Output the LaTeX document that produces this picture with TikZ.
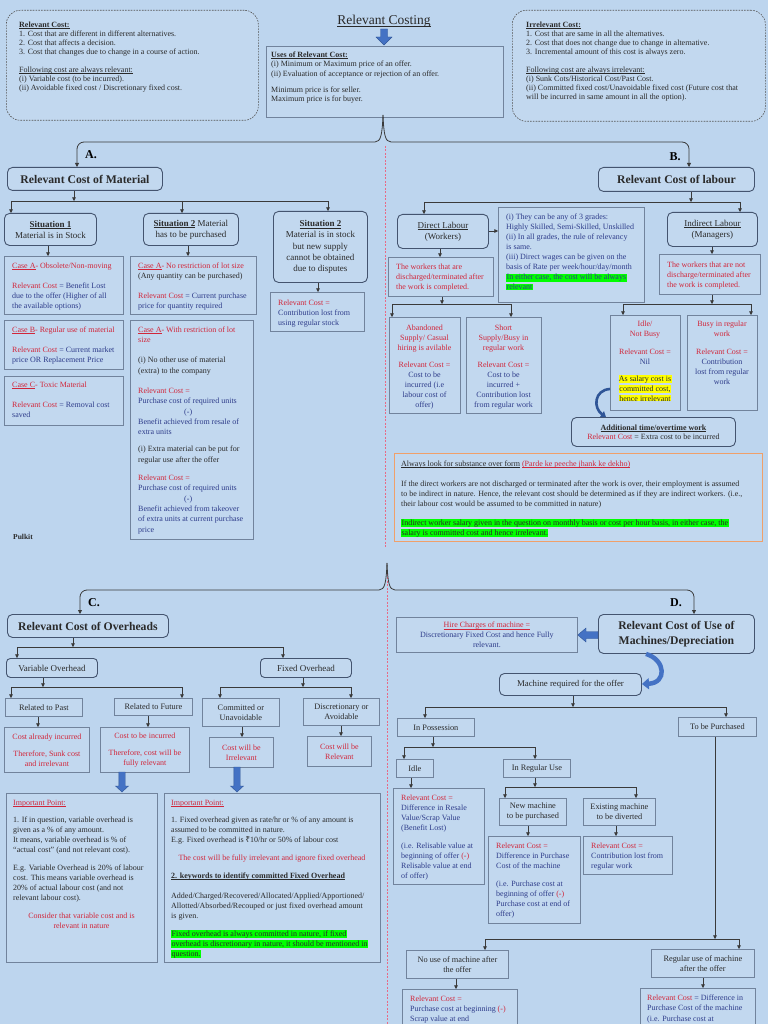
\documentclass[tikz,border=0pt]{standalone}
\usepackage{fontspec}
\setmainfont{Liberation Serif}
\newfontfamily\rupeefont{Noto Sans}
\usetikzlibrary{arrows.meta}
\definecolor{bgc}{HTML}{BDD5EE}
\definecolor{boxfill}{HTML}{C2D8EF}
\definecolor{rborder}{HTML}{44546F}
\definecolor{sborder}{HTML}{71839C}
\definecolor{tred}{HTML}{D1263A}
\definecolor{tblue}{HTML}{2E3C8A}
\definecolor{tdark}{HTML}{2A2A2A}
\definecolor{lnc}{HTML}{3A3A3A}
\definecolor{bigblue}{HTML}{4472C4}
\definecolor{bigblueb}{HTML}{2F5597}
\definecolor{hlg}{HTML}{00FF00}
\definecolor{hly}{HTML}{FFFF00}
\definecolor{orangeb}{HTML}{F0A06A}
\definecolor{reddash}{HTML}{E86A86}
\definecolor{brc}{HTML}{555555}
\newcommand\uline[1]{\setbox0=\hbox{#1}\rlap{\vrule height -0.12em depth 0.19em width \wd0}\box0\relax}
\newcommand\hg[1]{{\setlength\fboxsep{0.4pt}\colorbox{hlg}{#1}}}
\newcommand\hy[1]{{\setlength\fboxsep{0.4pt}\colorbox{hly}{#1}}}
\newcommand\rcst{\textcolor{tred}{Relevant Cost}}
\newcommand\rd[1]{\textcolor{tred}{#1}}
\newcommand\dk[1]{\textcolor{tdark}{#1}}
\newcommand\mkbox[7]{\node[#1, minimum width={#5-#3}, minimum height={#6-#4}, anchor=north west] (#2) at (#3,#4) {#7};}
\newcommand\tn[5][]{\node[txt,anchor=north west,#1] (#2) at (#3,{#4-4.2}) {\strut #5};}
\newcommand\tcn[5][]{\node[txt,align=center,anchor=north,#1] (#2) at (#3,{#4-4.2}) {\strut #5};}
% x, ytop, ybot, shaft half width, head half width, head length
\newcommand\bigdown[6]{\filldraw[bigarr] ({#1-#4},#2) -- ({#1+#4},#2) -- ({#1+#4},{#3-#6}) -- ({#1+#5},{#3-#6}) -- (#1,#3) -- ({#1-#5},{#3-#6}) -- ({#1-#4},{#3-#6}) -- cycle;}
\tikzset{
 rbox/.style={draw=rborder, line width=0.9pt, rounded corners=5pt, fill=boxfill, inner sep=1pt, align=center, text=tdark, font=\fontsize{9}{11}\selectfont},
 sbox/.style={draw=sborder, line width=0.8pt, fill=boxfill, inner sep=1pt, align=center, text=tdark, font=\fontsize{8}{10}\selectfont},
 dbox/.style={draw=brc, line width=0.6pt, dash pattern=on 1.6pt off 1.2pt, rounded corners=14pt, fill=boxfill},
 obox/.style={draw=orangeb, line width=0.9pt, fill=boxfill},
 hdr/.style={font=\bfseries\fontsize{11.7}{14.5}\selectfont},
 txt/.style={inner sep=0pt, align=left, text=tblue, font=\fontsize{8}{10}\selectfont},
 lbl/.style={inner sep=0pt, font=\bfseries\fontsize{12}{14}\selectfont, text=black},
 arr/.style={draw=lnc, line width=0.6pt, -{Triangle[width=3.6pt,length=3.6pt]}},
 ln/.style={draw=lnc, line width=0.6pt},
 brace/.style={draw=lnc, line width=0.8pt, -{Triangle[width=4pt,length=4pt]}},
 bigarr/.style={fill=bigblue, draw=bigblueb, line width=0.4pt},
}
\begin{document}
\begin{tikzpicture}[x=1pt, y={(0pt,-1pt)}]
\useasboundingbox (0,0) rectangle (768,1024);
\fill[bgc] (0,0) rectangle (768,1024);
\clip (0,0) rectangle (768,1024);
% centre divider
\draw[reddash, line width=0.6pt, dash pattern=on 2pt off 1.5pt] (385,146) -- (385,548);
\draw[reddash, line width=0.6pt, dash pattern=on 2pt off 1.5pt] (387,570) -- (387,1024);

% ================= TOP =================
\mkbox{dbox}{relc}{6}{10}{258}{120}{}
\tn[text=tdark, font=\fontsize{8}{9}\selectfont]{relct}{19}{25}{\textbf{\uline{Relevant Cost:}}\\1. Cost that are different in different alternatives.\\2. Cost that affects a decision.\\3. Cost that changes due to change in a course of action.\\[9pt]\uline{Following cost are always relevant:}\\(i) Variable cost (to be incurred).\\(ii) Avoidable fixed cost / Discretionary fixed cost.}
\node[inner sep=0pt, font=\fontsize{13.5}{16}\selectfont, text=tdark] (title) at (384,21) {\uline{Relevant Costing}};
\mkbox{sbox}{uses}{266}{46}{503}{117}{}
\bigdown{384}{29}{45}{3.5}{8}{8}
\tn[text=tdark, font=\fontsize{8}{9.3}\selectfont]{usest}{271}{55}{\textbf{\uline{Uses of Relevant Cost:}}\\(i) Minimum or Maximum price of an offer.\\(ii) Evaluation of acceptance or rejection of an offer.\\[7pt]Minimum price is for seller.\\Maximum price is for buyer.}
\mkbox{dbox}{irc}{512}{10}{765}{121}{}
\tn[text=tdark, font=\fontsize{8}{9}\selectfont]{irct}{526}{25}{\textbf{\uline{Irrelevant Cost:}}\\1. Cost that are same in all the alternatives.\\2. Cost that does not change due to change in alternative.\\3. Incremental amount of this cost is always zero.\\[9pt]\uline{Following cost are always irrelevant:}\\(i) Sunk Cots/Historical Cost/Past Cost.\\(ii) Committed fixed cost/Unavoidable fixed cost (Future cost that\\will be incurred in same amount in all the option).}

% ================= A =================
\node[lbl] (labA) at (91,155) {A.};
\mkbox{rbox,hdr}{matA}{7}{167}{162}{190}{Relevant Cost of Material}
\mkbox{rbox}{sit1}{4}{213}{96}{245}{\uline{\textbf{Situation 1}}\\Material is in Stock}
\mkbox{rbox}{sit2}{143}{213}{238}{245}{\uline{\textbf{Situation 2}} Material\\has to be purchased}
\mkbox{rbox,font=\fontsize{9}{11.3}\selectfont}{sit3}{273}{211}{367}{282}{\uline{\textbf{Situation 2}}\\Material is in stock\\but new supply\\cannot be obtained\\due to disputes}
\mkbox{sbox}{cA1}{4}{256}{123}{314}{}
\tn{cA1t}{12}{265}{\rd{\uline{Case A}- Obsolete/Non-moving}\\[10pt]\rcst{} = Benefit Lost\\due to the offer (Higher of all\\the available options)}
\mkbox{sbox}{cB}{4}{320}{123}{369}{}
\tn{cBt}{12}{329}{\rd{\uline{Case B}- Regular use of material}\\[10pt]\rcst{} = Current market\\price OR Replacement Price}
\mkbox{sbox}{cC}{4}{376}{123}{425}{}
\tn{cCt}{12}{384}{\rd{\uline{Case C}- Toxic Material}\\[10pt]\rcst{} = Removal cost\\saved}
\mkbox{sbox}{cA2}{130}{256}{256}{314}{}
\tn{cA2t}{138}{265}{\rd{\uline{Case A}- No restriction of lot size}\\\dk{(Any quantity can be purchased)}\\[10pt]\rcst{} = Current purchase\\price for quantity required}
\mkbox{sbox}{cA3}{130}{320}{253}{539}{}
\tn[font=\fontsize{8}{10.3}\selectfont]{cA3t}{138}{329}{\rd{\uline{Case A}- With restriction of lot}\\\rd{size}\\[10pt]\dk{(i) No other use of material}\\\dk{(extra) to the company}\\[10pt]\rd{Relevant Cost =}\\Purchase cost of required units\\\hspace*{46pt}(-)\\Benefit achieved from resale of\\extra units\\[7pt]\dk{(i) Extra material can be put for}\\\dk{regular use after the offer}\\[8pt]\rd{Relevant Cost =}\\Purchase cost of required units\\\hspace*{46pt}(-)\\Benefit achieved from takeover\\of extra units at current purchase\\price}
\mkbox{sbox}{rs3}{270}{292}{364}{331}{}
\tn{rs3t}{278}{302}{\rd{Relevant Cost =}\\Contribution lost from\\using regular stock}
\node[inner sep=0pt, font=\bfseries\fontsize{7.5}{9}\selectfont, text=tdark, anchor=west] (pulkit) at (13,537) {Pulkit};

\draw[arr] (matA.south -| 74,0) -- (74,201);
\draw[ln] (11,201) -- (328,201);
\draw[arr] (11,201) -- (sit1.north -| 11,0);
\draw[arr] (182,201) -- (sit2.north -| 182,0);
\draw[arr] (328,201) -- (sit3.north -| 328,0);
\draw[arr] (sit1.south -| 48,0) -- (cA1.north -| 48,0);
\draw[arr] (sit2.south -| 188,0) -- (cA2.north -| 188,0);
\draw[arr] (sit3.south -| 318,0) -- (rs3.north -| 318,0);

% ================= B =================
\node[lbl] (labB) at (675,157) {B.};
\mkbox{rbox,hdr}{matB}{598}{167}{754}{191}{Relevant Cost of labour}
\mkbox{rbox}{dl}{397}{214}{488}{248}{\uline{Direct Labour}\\(Workers)}
\mkbox{sbox}{gr}{498}{207}{644}{302}{}
\tn[font=\fontsize{8}{10.1}\selectfont]{grt}{506}{216}{(i) They can be any of 3 grades:\\Highly Skilled, Semi-Skilled, Unskilled\\(ii) In all grades, the rule of relevancy\\is same.\\(iii) Direct wages can be given on the\\basis of Rate per week/hour/day/month\\\hg{In either case, the cost will be always}\\\hg{relevant}}
\mkbox{rbox}{il}{667}{212}{757}{246}{\uline{Indirect Labour}\\(Managers)}
\mkbox{sbox}{iw}{659}{254}{760}{294}{}
\tn[text=tred]{iwt}{667}{264}{The workers that are not\\discharge/terminated after\\the work is completed.}
\mkbox{sbox}{dw}{388}{257}{493}{296}{}
\tn[text=tred]{dwt}{396}{266}{The workers that are\\discharged/terminated after\\the work is completed.}
\mkbox{sbox}{ab}{389}{317}{460}{413}{}
\tcn{abt}{424.5}{327}{\rd{Abandoned}\\\rd{Supply/ Casual}\\\rd{hiring is avilable}\\[7pt]\rd{Relevant Cost =}\\Cost to be\\incurred (i.e\\labour cost of\\offer)}
\mkbox{sbox}{ss}{466}{317}{541}{413}{}
\tcn{sst}{503.5}{327}{\rd{Short}\\\rd{Supply/Busy in}\\\rd{regular work}\\[7pt]\rd{Relevant Cost =}\\Cost to be\\incurred +\\Contribution lost\\from regular work}
\mkbox{sbox}{idl}{610}{315}{680}{410}{}
\tcn{idlt}{645}{323}{\rd{Idle/}\\\rd{Not Busy}\\[8pt]\rd{Relevant Cost =}\\Nil\\[7pt]\dk{\hy{As salary cost is}}\\\dk{\hy{committed cost,}}\\\dk{\hy{hence irrelevant}}}
\mkbox{sbox}{bsy}{687}{315}{757}{410}{}
\tcn{bsyt}{722}{323}{\rd{Busy in regular}\\\rd{work}\\[8pt]\rd{Relevant Cost =}\\Contribution\\lost from regular\\work}
\mkbox{rbox,font=\fontsize{8}{9}\selectfont}{add}{571}{417}{735}{446}{\textbf{\uline{Additional time/overtime work}}\\\rcst{} = Extra cost to be incurred}
\mkbox{obox}{org}{394}{453}{762}{541}{}
\tn[text=tdark]{orgt}{401}{463}{\uline{Always look for substance over form} \rd{\uline{(Parde ke peeche jhank ke dekho)}}\\[10pt]If the direct workers are not discharged or terminated after the work is over, their employment is assumed\\to be indirect in nature. Hence, the relevant cost should be determined as if they are indirect workers. (i.e.,\\their labour cost would be assumed to be committed in nature)\\[9pt]\hg{Indirect worker salary given in the question on monthly basis or cost per hour basis, in either case, the}\\\hg{salary is committed cost and hence irrelevant.}}

\draw[arr] (matB.south -| 691,0) -- (691,202);
\draw[ln] (424,202) -- (740,202);
\draw[arr] (424,202) -- (dl.north -| 424,0);
\draw[arr] (740,202) -- (il.north -| 740,0);
\draw[arr] (dl.east |- 0,231) -- (gr.west |- 0,231);
\draw[arr] (dl.south -| 440,0) -- (dw.north -| 440,0);
\draw[arr] (il.south -| 712,0) -- (iw.north -| 712,0);
\draw[arr] (dw.south -| 442,0) -- (442,304);
\draw[ln] (392,304) -- (511,304);
\draw[arr] (392,304) -- (ab.north -| 392,0);
\draw[arr] (511,304) -- (ss.north -| 511,0);
\draw[arr] (iw.south -| 712,0) -- (712,304);
\draw[ln] (623,304) -- (751,304);
\draw[arr] (623,304) -- (idl.north -| 623,0);
\draw[arr] (751,304) -- (bsy.north -| 751,0);
\draw[draw=bigblueb, line width=2.6pt, -{Triangle[width=7pt,length=5pt]}] (idl.west |- 0,389) .. controls (594,390) and (593,408) .. (add.north -| 606,0);

% ================= C =================
\node[lbl] (labC) at (94,603) {C.};
\mkbox{rbox,hdr}{ovh}{7}{614}{168}{637}{Relevant Cost of Overheads}
\mkbox{rbox,rounded corners=4pt}{vo}{6}{658}{97}{677}{Variable Overhead}
\mkbox{rbox,rounded corners=4pt}{fo}{260}{658}{351}{677}{Fixed Overhead}
\mkbox{sbox,font=\fontsize{8.3}{10}\selectfont}{rp}{5}{698}{82}{716}{Related to Past}
\mkbox{sbox,font=\fontsize{8.3}{10}\selectfont}{rf}{114}{698}{192}{715}{Related to Future}
\mkbox{sbox,text=tred}{ca}{4}{727}{89}{772}{Cost already incurred\\[7pt]Therefore, Sunk cost\\and irrelevant}
\mkbox{sbox,text=tred}{ci}{100}{727}{189}{772}{Cost to be incurred\\[7pt]Therefore, cost will be\\fully relevant}
\mkbox{sbox,font=\fontsize{8.3}{10}\selectfont}{cm}{202}{698}{279}{726}{Committed or\\Unavoidable}
\mkbox{sbox,font=\fontsize{8.3}{10}\selectfont}{dc}{303}{698}{379}{725}{Discretionary or\\Avoidable}
\mkbox{sbox,text=tred}{cwi}{209}{737}{273}{767}{Cost will be\\Irrelevant}
\mkbox{sbox,text=tred}{cwr}{307}{736}{371}{766}{Cost will be\\Relevant}
\bigdown{122}{772}{792}{3.2}{6.5}{6}
\bigdown{237}{767}{792}{3.2}{6.5}{6}
\mkbox{sbox}{ipl}{6}{793}{157}{962}{}
\tn[text=tdark]{iplt}{13}{802}{\rd{\uline{Important Point:}}\\[7pt]1. If in question, variable overhead is\\given as a \% of any amount.\\It means, variable overhead is \% of\\“actual cost” (and not relevant cost).\\[8pt]E.g. Variable Overhead is 20\% of labour\\cost. This means variable overhead is\\20\% of actual labour cost (and not\\relevant labour cost).}
\tcn[text=tred]{iplr}{81.5}{915}{Consider that variable cost and is\\relevant in nature}
\mkbox{sbox}{ipr}{164}{793}{380}{962}{}
\tn[text=tdark]{iprt}{171}{802}{\rd{\uline{Important Point:}}\\[7pt]1. Fixed overhead given as rate/hr or \% of any amount is\\assumed to be committed in nature.\\E.g. Fixed overhead is {\rupeefont ₹}10/hr or 50\% of labour cost}
\tcn[text=tred]{iprr}{272}{857}{The cost will be fully irrelevant and ignore fixed overhead}
\tn[text=tdark]{iprt2}{171}{875}{\textbf{\uline{2. keywords to identify committed Fixed Overhead}}\\[10pt]Added/Charged/Recovered/Allocated/Applied/Apportioned/\\Allotted/Absorbed/Recouped or just fixed overhead amount\\is given.\\[8pt]\hg{Fixed overhead is always committed in nature, if fixed}\\\hg{overhead is discretionary in nature, it should be mentioned in}\\\hg{question.}}

\draw[arr] (ovh.south -| 73,0) -- (73,647);
\draw[ln] (17,647) -- (283,647);
\draw[arr] (17,647) -- (vo.north -| 17,0);
\draw[arr] (283,647) -- (fo.north -| 283,0);
\draw[arr] (vo.south -| 43,0) -- (43,687);
\draw[ln] (11,687) -- (182,687);
\draw[arr] (11,687) -- (rp.north -| 11,0);
\draw[arr] (182,687) -- (rf.north -| 182,0);
\draw[arr] (rp.south -| 38,0) -- (ca.north -| 38,0);
\draw[arr] (rf.south -| 148,0) -- (ci.north -| 148,0);
\draw[arr] (fo.south -| 303,0) -- (303,687);
\draw[ln] (220,687) -- (351,687);
\draw[arr] (220,687) -- (cm.north -| 220,0);
\draw[arr] (351,687) -- (dc.north -| 351,0);
\draw[arr] (cm.south -| 242,0) -- (cwi.north -| 242,0);
\draw[arr] (dc.south -| 341,0) -- (cwr.north -| 341,0);

% ================= D =================
\node[lbl] (labD) at (676,603) {D.};
\mkbox{rbox,hdr}{dbx}{598}{614}{754}{653}{Relevant Cost of Use of\\Machines/Depreciation}
\mkbox{sbox}{hire}{396}{617}{577}{652}{\rd{\uline{Hire Charges of machine =}}\\\textcolor{tblue}{Discretionary Fixed Cost and hence Fully}\\\textcolor{tblue}{relevant.}}
\mkbox{rbox,font=\fontsize{8.8}{11}\selectfont}{mr}{499}{673}{641}{695}{Machine required for the offer}
\mkbox{sbox,font=\fontsize{8.3}{10}\selectfont}{ip}{397}{718}{474}{736}{In Possession}
\mkbox{sbox,font=\fontsize{8.3}{10}\selectfont}{tp}{678}{717}{756}{736}{To be Purchased}
\mkbox{sbox,font=\fontsize{8.3}{10}\selectfont}{idD}{396}{759}{433}{777}{Idle}
\mkbox{sbox,font=\fontsize{8.3}{10}\selectfont}{iru}{503}{759}{570}{777}{In Regular Use}
\mkbox{sbox}{rci}{393}{788}{484}{884}{}
\tn{rcit}{401}{797}{\rd{Relevant Cost =}\\Difference in Resale\\Value/Scrap Value\\(Benefit Lost)\\[8pt](i.e. Relisable value at\\beginning of offer \rd{(-)}\\Relisable value at end\\of offer)}
\mkbox{sbox,font=\fontsize{8.3}{10}\selectfont}{nm}{499}{798}{566}{825}{New machine\\to be purchased}
\mkbox{sbox,font=\fontsize{8.3}{10}\selectfont}{em}{583}{798}{655}{825}{Existing machine\\to be diverted}
\mkbox{sbox}{rcn}{488}{836}{580}{923}{}
\tn{rcnt}{496}{845}{\rd{Relevant Cost =}\\Difference in Purchase\\Cost of the machine\\[8pt](i.e. Purchase cost at\\beginning of offer \rd{(-)}\\Purchase cost at end of\\offer)}
\mkbox{sbox}{rce}{583}{836}{672}{874}{}
\tn{rcet}{591}{845}{\rd{Relevant Cost =}\\Contribution lost from\\regular work}
\mkbox{sbox,font=\fontsize{8.3}{10}\selectfont}{nu}{406}{950}{508}{978}{No use of machine after\\the offer}
\mkbox{sbox,font=\fontsize{8.3}{10}\selectfont}{ru}{651}{949}{754}{977}{Regular use of machine\\after the offer}
\mkbox{sbox}{rcnu}{402}{989}{517}{1045}{}
\tn{rcnut}{410}{998}{\rd{Relevant Cost =}\\Purchase cost at beginning \rd{(-)}\\Scrap value at end}
\mkbox{sbox}{rcru}{640}{988}{755}{1045}{}
\tn{rcrut}{647}{997}{\rd{Relevant Cost} = Difference in\\Purchase Cost of the machine\\[1pt](i.e. Purchase cost at}

\filldraw[bigarr] (dbx.west |- 0,631.5) -- (586,631.5) -- (586,628) -- (hire.east |- 0,635) -- (586,642) -- (586,638.5) -- (dbx.west |- 0,638.5) -- cycle;
\draw[draw=bigblue, line width=4.5pt, -{Triangle[width=11pt,length=7pt]}] (dbx.south -| 646,0) .. controls (666,660) and (667,683) .. (mr.east |- 0,684);
\draw[arr] (mr.south -| 573,0) -- (573,707);
\draw[ln] (425,707) -- (726,707);
\draw[arr] (425,707) -- (ip.north -| 425,0);
\draw[arr] (726,707) -- (tp.north -| 726,0);
\draw[arr] (ip.south -| 433,0) -- (433,747);
\draw[ln] (404,747) -- (535,747);
\draw[arr] (404,747) -- (idD.north -| 404,0);
\draw[arr] (535,747) -- (iru.north -| 535,0);
\draw[arr] (idD.south -| 411,0) -- (rci.north -| 411,0);
\draw[arr] (iru.south -| 535,0) -- (535,787);
\draw[ln] (505,787) -- (636,787);
\draw[arr] (505,787) -- (nm.north -| 505,0);
\draw[arr] (636,787) -- (em.north -| 636,0);
\draw[arr] (nm.south -| 528,0) -- (rcn.north -| 528,0);
\draw[arr] (em.south -| 616,0) -- (rce.north -| 616,0);
\draw[arr] (tp.south -| 715,0) -- (715,939);
\draw[ln] (485,939) -- (739,939);
\draw[arr] (485,939) -- (nu.north -| 485,0);
\draw[arr] (739,939) -- (ru.north -| 739,0);
\draw[arr] (nu.south -| 456,0) -- (rcnu.north -| 456,0);
\draw[arr] (ru.south -| 703,0) -- (rcru.north -| 703,0);

% ================= braces =================
\draw[brace] (383,115) .. controls (383.8,134) and (385,142) .. (391,142) [rounded corners=7pt] -- (689,142) -- (matB.north -| 689,0);
\draw[brace] (383,115) .. controls (382.2,134) and (381,142) .. (375,142) [rounded corners=7pt] -- (77,142) -- (matA.north -| 77,0);
\draw[brace] (387,563) .. controls (387.8,582) and (389,590) .. (395,590) [rounded corners=7pt] -- (694,590) -- (dbx.north -| 694,0);
\draw[brace] (387,563) .. controls (386.2,582) and (385,590) .. (379,590) [rounded corners=7pt] -- (80,590) -- (ovh.north -| 80,0);
\end{tikzpicture}
\end{document}
